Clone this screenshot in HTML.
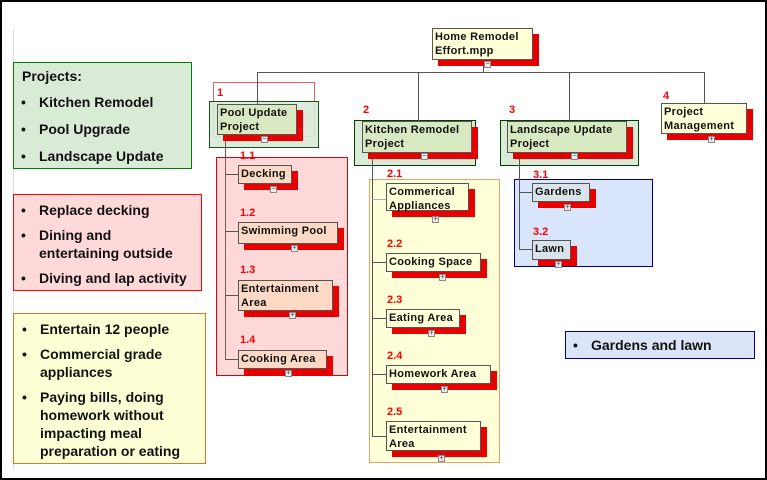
<!DOCTYPE html>
<html><head><meta charset="utf-8"><style>
*{margin:0;padding:0;box-sizing:border-box}
body{width:767px;height:480px;position:relative;background:#fff;font-family:"Liberation Sans",Arial,sans-serif;overflow:hidden}
.a{position:absolute}
.frame{left:0;top:0;width:767px;height:480px;border:2px solid #000;border-right-width:2px}
.panel{position:absolute}
.n{position:absolute;border:1px solid #555;box-shadow:6px 6px 0 #e60000;font-size:11px;font-weight:bold;line-height:14px;padding:1px 2px;color:#111;white-space:nowrap;letter-spacing:0.3px}
.y{background:#ffffd8}
.g{background:#d8e8c0}
.p{background:#fcd9c4}
.b{background:#d8e4ea}
.ic{position:absolute;width:7px;height:7px;border:1px solid #888;background:#eee;font-size:7px;line-height:5px;text-align:center;color:#333}
.num{position:absolute;color:#f00;font-size:11px;font-weight:bold}
.ln{position:absolute;background:#555}
.box{position:absolute;font-size:14px;font-weight:bold;color:#111}
.box ul{list-style:none}
.box li{position:relative;padding-left:25px;margin-bottom:7px;line-height:18px}
.box li:before{content:"•";position:absolute;left:7px}
</style></head><body>
<div class="a frame"></div>
<div class="a" style="left:13px;top:30px;width:1px;height:440px;background:#ddd"></div>

<div class="box" style="left:13px;top:62px;width:179px;height:107px;background:#d9ead6;border:1px solid #008000;padding:5px 0 0 8px">
<div style="margin-bottom:9px">Projects:</div>
<ul style="margin-left:-8px"><li style="margin-bottom:9px">Kitchen Remodel</li><li style="margin-bottom:9px">Pool Upgrade</li><li>Landscape Update</li></ul></div>

<div class="box" style="left:13px;top:194px;width:189px;height:97px;background:#ffd9d9;border:1px solid #f00;padding:6px 0 0 0">
<ul><li>Replace decking</li><li>Dining and<br>entertaining outside</li><li>Diving and lap activity</li></ul></div>

<div class="box" style="left:13px;top:313px;width:193px;height:151px;background:#ffffd5;border:1px solid #f07020;padding:6px 0 0 1px">
<ul><li>Entertain 12 people</li><li>Commercial grade appliances</li><li>Paying bills, doing homework without impacting meal preparation or eating</li></ul></div>

<div class="box" style="left:565px;top:331px;width:190px;height:28px;background:#dbe5f8;border:1px solid #000080;padding:4px 0 0 0">
<ul><li>Gardens and lawn</li></ul></div>

<!-- panels -->
<div class="panel" style="left:213px;top:82px;width:102px;height:55px;border:1px solid #f06060"></div>
<div class="panel" style="left:209px;top:101px;width:110px;height:47px;background:#d9ead6;border:1px solid #004000;opacity:.9"></div>
<div class="panel" style="left:354px;top:120px;width:122px;height:46px;background:#d9ead6;border:1px solid #004000"></div>
<div class="panel" style="left:500px;top:120px;width:139px;height:46px;background:#d9ead6;border:1px solid #004000"></div>
<div class="panel" style="left:216px;top:157px;width:132px;height:219px;background:#ffd9d9;border:1px solid #e00000"></div>
<div class="panel" style="left:369px;top:179px;width:131px;height:284px;background:#ffffd8;border:1px solid #f0a060"></div>
<div class="panel" style="left:514px;top:179px;width:139px;height:88px;background:#d9e5fb;border:1px solid #000080"></div>

<!-- connectors -->
<div class="ln" style="left:483px;top:60px;width:1px;height:13px"></div>
<div class="ln" style="left:257px;top:72px;width:447px;height:1px"></div>
<div class="ln" style="left:257px;top:72px;width:1px;height:32px"></div>
<div class="ln" style="left:418px;top:72px;width:1px;height:49px"></div>
<div class="ln" style="left:569px;top:72px;width:1px;height:49px"></div>
<div class="ln" style="left:704px;top:72px;width:1px;height:32px"></div>

<div class="ln" style="left:225px;top:134px;width:1px;height:226px;background:#7a5a5a"></div>
<div class="ln" style="left:225px;top:174px;width:13px;height:1px"></div>
<div class="ln" style="left:225px;top:231px;width:13px;height:1px"></div>
<div class="ln" style="left:225px;top:295px;width:13px;height:1px"></div>
<div class="ln" style="left:225px;top:359px;width:13px;height:1px"></div>

<div class="ln" style="left:372px;top:152px;width:1px;height:285px"></div>
<div class="ln" style="left:372px;top:199px;width:14px;height:1px;background:#aaa"></div>
<div class="ln" style="left:372px;top:262px;width:14px;height:1px"></div>
<div class="ln" style="left:372px;top:318px;width:14px;height:1px"></div>
<div class="ln" style="left:372px;top:374px;width:14px;height:1px"></div>
<div class="ln" style="left:372px;top:436px;width:14px;height:1px"></div>

<div class="ln" style="left:519px;top:152px;width:1px;height:98px"></div>
<div class="ln" style="left:519px;top:192px;width:13px;height:1px"></div>
<div class="ln" style="left:519px;top:249px;width:13px;height:1px"></div>

<!-- nodes -->
<div class="n y" style="left:432px;top:28px;width:101px;height:32px">Home Remodel<br>Effort.mpp</div>
<div class="ic" style="left:484px;top:61px">−</div>

<div class="num" style="left:217px;top:87px">1</div>
<div class="n g" style="left:217px;top:104px;width:80px;height:31px">Pool Update<br>Project</div>
<div class="ic" style="left:261px;top:136px">−</div>

<div class="num" style="left:363px;top:104px">2</div>
<div class="n g" style="left:362px;top:121px;width:110px;height:32px">Kitchen Remodel<br>Project</div>
<div class="ic" style="left:421px;top:153px">−</div>

<div class="num" style="left:509px;top:104px">3</div>
<div class="n g" style="left:507px;top:121px;width:120px;height:32px">Landscape Update<br>Project</div>
<div class="ic" style="left:571px;top:153px">−</div>

<div class="num" style="left:663px;top:90px">4</div>
<div class="n y" style="left:661px;top:103px;width:86px;height:31px">Project<br>Management</div>
<div class="ic" style="left:708px;top:136px">+</div>

<div class="num" style="left:240px;top:150px">1.1</div>
<div class="n p" style="left:238px;top:165px;width:54px;height:19px">Decking</div>
<div class="ic" style="left:270px;top:186px">−</div>
<div class="num" style="left:240px;top:207px">1.2</div>
<div class="n p" style="left:238px;top:222px;width:100px;height:22px">Swimming Pool</div>
<div class="ic" style="left:291px;top:245px">+</div>
<div class="num" style="left:240px;top:264px">1.3</div>
<div class="n p" style="left:238px;top:280px;width:95px;height:31px">Entertainment<br>Area</div>
<div class="ic" style="left:289px;top:312px">+</div>
<div class="num" style="left:240px;top:334px">1.4</div>
<div class="n p" style="left:238px;top:350px;width:89px;height:19px">Cooking Area</div>
<div class="ic" style="left:285px;top:370px">+</div>

<div class="num" style="left:387px;top:168px">2.1</div>
<div class="n y" style="left:386px;top:183px;width:83px;height:28px">Commerical<br>Appliances</div>
<div class="ic" style="left:432px;top:216px">+</div>
<div class="num" style="left:387px;top:238px">2.2</div>
<div class="n y" style="left:386px;top:253px;width:95px;height:19px">Cooking Space</div>
<div class="ic" style="left:439px;top:274px">+</div>
<div class="num" style="left:387px;top:294px">2.3</div>
<div class="n y" style="left:386px;top:309px;width:74px;height:19px">Eating Area</div>
<div class="ic" style="left:428px;top:330px">+</div>
<div class="num" style="left:387px;top:350px">2.4</div>
<div class="n y" style="left:386px;top:365px;width:105px;height:19px">Homework Area</div>
<div class="ic" style="left:441px;top:386px">+</div>
<div class="num" style="left:387px;top:406px">2.5</div>
<div class="n y" style="left:386px;top:421px;width:95px;height:30px">Entertainment<br>Area</div>
<div class="ic" style="left:438px;top:455px">+</div>

<div class="num" style="left:533px;top:169px">3.1</div>
<div class="n b" style="left:532px;top:183px;width:58px;height:19px">Gardens</div>
<div class="ic" style="left:564px;top:204px">+</div>
<div class="num" style="left:533px;top:226px">3.2</div>
<div class="n b" style="left:532px;top:240px;width:39px;height:20px">Lawn</div>
<div class="ic" style="left:555px;top:261px">+</div>
</body></html>
